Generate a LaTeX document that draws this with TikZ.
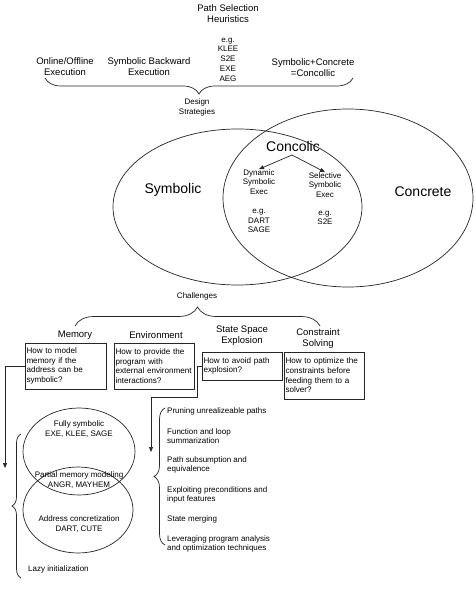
\documentclass[tikz,border=0pt]{standalone}
\usepackage{fontspec}
\setmainfont{Liberation Sans}
\usetikzlibrary{arrows.meta,decorations.pathreplacing,shapes.geometric}
\begin{document}
\begin{tikzpicture}[x=1pt,y=-1pt,
  sm/.style={font=\fontsize{8}{9.7}\selectfont, align=center, inner sep=0pt},
  md/.style={font=\fontsize{9.5}{11}\selectfont, align=center, inner sep=0pt},
  lg/.style={font=\fontsize{14}{16}\selectfont, inner sep=0pt},
  lst/.style={font=\fontsize{8}{9.7}\selectfont, align=left, inner sep=0pt, anchor=west},
  qbox/.style={draw=black!85, line width=0.7pt, font=\fontsize{8.1}{9.7}\selectfont, align=left, inner sep=1.5pt},
  ln/.style={draw=black!85, line width=0.7pt},
  arr/.style={ln, -{Triangle[length=5pt,width=4pt]}},
  brc/.style={ln, decorate, decoration={brace, amplitude=#1}},
  venn/.style={ln, ellipse, inner sep=0pt}
]
\useasboundingbox (0,0) rectangle (474,594);
\fill[white] (0,0) rectangle (474,594);

% top part
\node[md] (pathsel) at (228,13.5) {Path Selection\\Heuristics};
\node[sm] (eg1) at (228,59.5) {e.g.\\KLEE\\S2E\\EXE\\AEG};
\node[md] (online) at (65,66.5) {Online/Offline\\Execution};
\node[md] (symback) at (149,66.5) {Symbolic Backward\\Execution};
\node[md] (symconc) at (313,67.5) {Symbolic+Concrete\\=Concollic};
\coordinate (b1a) at (353,78);
\coordinate (b1b) at (45,78);
\draw[brc=16] (b1a) -- (b1b);
\node[sm] (design) at (197,107.5) {Design\\Strategies};

% venn
\node[venn, draw, minimum width=249pt, minimum height=156pt] (symE) at (237.5,207) {};
\node[venn, draw, minimum width=250pt, minimum height=178pt] (conE) at (348,198) {};
\node[lg] (symb) at (173,190) {Symbolic};
\node[lg] (concr) at (423,192) {Concrete};
\node[lg] (concol) at (293,146) {Concolic};
\node[sm] (dyn) at (259,182) {Dynamic\\Symbolic\\Exec};
\node[sm] (dyneg) at (259,221) {e.g.\\DART\\SAGE};
\node[sm] (sel) at (325,185) {Selective\\Symbolic\\Exec};
\node[sm] (seleg) at (325,218) {e.g.\\S2E};
\coordinate (cs) at (292,155);
\draw[arr] (cs) -- (dyn.north);
\draw[arr] (cs) -- (sel.north);

% challenges
\node[sm] (chal) at (197,296) {Challenges};
\coordinate (b2a) at (75,326);
\coordinate (b2b) at (320,326);
\draw[brc=19] (b2a) -- (b2b);
\node[md] (memL) at (75,335) {Memory};
\node[md] (envL) at (156,335) {Environment};
\node[md] (ssL) at (242,336) {State Space\\Explosion};
\node[md] (csL) at (318,339) {Constraint\\Solving};

\node[qbox, minimum width=81pt, minimum height=46pt, text width=78pt] (memB) at (65.5,366) {How to model\\memory if the\\address can be\\symbolic?};
\node[qbox, minimum width=80pt, minimum height=46pt, text width=77pt] (envB) at (154,366) {How to provide the\\program with\\external environment\\interactions?};
\node[qbox, minimum width=80pt, minimum height=28pt, text width=77pt] (ssB) at (242,366) {How to avoid path\\explosion?};
\node[qbox, minimum width=80pt, minimum height=47pt, text width=77pt] (csB) at (324,375.5) {How to optimize the\\constraints before\\feeding them to a\\solver?};

% connectors
\coordinate (mt) at (5,468);
\draw[arr] (memB.west) -| (mt);
\coordinate (sa) at (197,397);
\coordinate (st) at (151,452);
\draw[arr] (ssB.west) -| (sa) -| (st);

% memory venn
\node[venn, draw, minimum width=112pt, minimum height=87pt] (upC) at (79,451.5) {};
\node[venn, draw, minimum width=110pt, minimum height=86pt] (loC) at (78,510) {};
\node[sm] (fully) at (79,429) {Fully symbolic\\EXE, KLEE, SAGE};
\node[sm] (partial) at (79,480) {Partial memory modeling\\ANGR, MAYHEM};
\node[sm] (addr) at (79,524) {Address concretization\\DART, CUTE};
\coordinate (b3a) at (21,578);
\coordinate (b3b) at (21,434);
\draw[brc=9] (b3a) -- (b3b);
\node[lst] (lazy) at (28,569) {Lazy initialization};

% state explosion list
\coordinate (b4a) at (165,545);
\coordinate (b4b) at (165,408);
\draw[brc=11] (b4a) -- (b4b);
\node[lst] (l1) at (167,411) {Pruning unrealizeable paths};
\node[lst] (l2) at (167,436) {Function and loop\\summarization};
\node[lst] (l3) at (167,465) {Path subsumption and\\equivalence};
\node[lst] (l4) at (167,495) {Exploiting preconditions and\\input features};
\node[lst] (l5) at (167,519) {State merging};
\node[lst] (l6) at (167,544) {Leveraging program analysis\\and optimization techniques};
\end{tikzpicture}
\end{document}
